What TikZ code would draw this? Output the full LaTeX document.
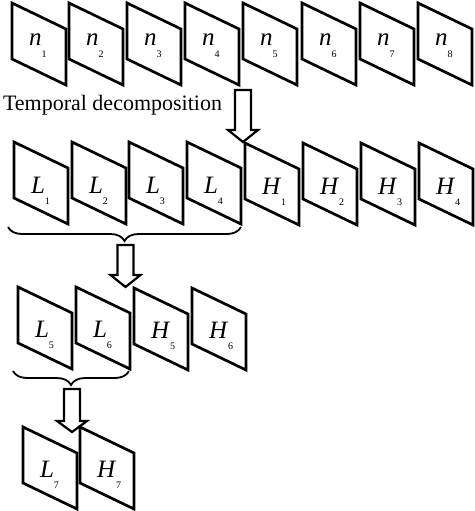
\documentclass[tikz,border=0pt]{standalone}
\usepackage{fontspec}
\setmainfont{Liberation Serif}
\usetikzlibrary{decorations.pathreplacing}
\tikzset{
  framebox/.style={draw=black, line width=2.7pt, line join=miter},
  lbl/.style={inner sep=0pt, outer sep=0pt, anchor=base west, font=\fontsize{25}{25}\selectfont},
  blockarrow/.style={draw=black, line width=2.2pt, fill=white, line join=miter},
  bracestyle/.style={draw=black, line width=1.8pt, decorate, decoration={brace, mirror, amplitude=14pt}},
  titlestyle/.style={inner sep=0pt, outer sep=0pt, anchor=base west, font=\fontsize{22}{22}\selectfont}
}
\newcommand\frm[6]{%
  \draw[framebox] (#2,#3) -- ++(54,26) -- ++(0,56) -- ++(-54,-26) -- cycle;
  \node[lbl] (#1) at (#2+17,#3+#6) {\textit{#4}\raisebox{-11pt}{\fontsize{10}{10}\selectfont #5}};
}
\begin{document}
\begin{tikzpicture}[x=1pt,y=-1pt]
\useasboundingbox (0,0) rectangle (474,511);
% row 1
\frm{n1}{12}{3}{n}{1}{43}
\frm{n2}{69}{3}{n}{2}{43}
\frm{n3}{127}{3}{n}{3}{43}
\frm{n4}{185}{3}{n}{4}{43}
\frm{n5}{243}{3}{n}{5}{43}
\frm{n6}{302}{3}{n}{6}{43}
\frm{n7}{360}{3}{n}{7}{43}
\frm{n8}{418}{3}{n}{8}{43}
\node[titlestyle] (title) at (3,110) {Temporal decomposition};
% arrow 1
\coordinate (a1) at (243,90);
\draw[blockarrow] (a1) ++(-8,0) -- ++(0,40) -- ++(-7,0) -- ++(15,12) -- ++(15,-12) -- ++(-7,0) -- ++(0,-40) -- cycle;
% row 2
\frm{L1}{14}{142}{L}{1}{51}
\frm{L2}{72}{142}{L}{2}{51}
\frm{L3}{129}{142}{L}{3}{51}
\frm{L4}{187}{142}{L}{4}{51}
\frm{H1}{245}{143}{H}{1}{51}
\frm{H2}{303}{143}{H}{2}{51}
\frm{H3}{361}{143}{H}{3}{51}
\frm{H4}{419}{143}{H}{4}{51}
\coordinate (b1s) at (8,227);
\coordinate (b1e) at (241,227);
\draw[bracestyle] (b1s) -- (b1e);
% arrow 2
\coordinate (a2) at (125.5,245);
\draw[blockarrow] (a2) ++(-8,0) -- ++(0,30) -- ++(-7,0) -- ++(15,12) -- ++(15,-12) -- ++(-7,0) -- ++(0,-30) -- cycle;
% row 3
\frm{L5}{18}{287}{L}{5}{50}
\frm{L6}{76}{287}{L}{6}{50}
\frm{H5}{134}{288}{H}{5}{50}
\frm{H6}{192}{288}{H}{6}{50}
\coordinate (b2s) at (13,371);
\coordinate (b2e) at (129,371);
\draw[bracestyle] (b2s) -- (b2e);
% arrow 3
\coordinate (a3) at (72,389);
\draw[blockarrow] (a3) ++(-8,0) -- ++(0,32) -- ++(-7,0) -- ++(15,11) -- ++(15,-11) -- ++(-7,0) -- ++(0,-32) -- cycle;
% row 4
\frm{L7}{23}{427}{L}{7}{50}
\frm{H7}{80}{427}{H}{7}{50}
\end{tikzpicture}
\end{document}
